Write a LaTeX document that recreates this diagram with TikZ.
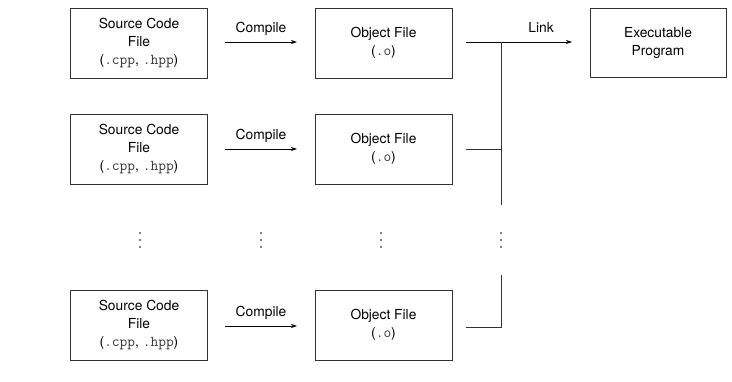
\documentclass[tikz,border=0pt]{standalone}
\usepackage{fontspec}
\setmainfont{TeX Gyre Heros}
\usetikzlibrary{arrows.meta}
\begin{document}
\begin{tikzpicture}[x=1pt,y=-1pt,
  box/.style={draw=black!80,line width=0.8pt,minimum width=137pt,minimum height=70pt,inner sep=0pt,align=center,font=\fontsize{13.8}{18}\selectfont},
  arr/.style={-{Stealth[length=6pt,width=4pt]},line width=0.7pt},
  ln/.style={line width=0.7pt,draw=black!80},
  lbl/.style={font=\fontsize{13.8}{15}\selectfont,anchor=base},
  dot/.style={circle,fill=black,inner sep=0pt,minimum size=1.9pt}]
\useasboundingbox (0,0) rectangle (732,382);
\newcommand{\mytt}[1]{{\fontsize{15}{18}\selectfont\color{black!80}\ttfamily #1}}
\newcommand{\ext}{(\mytt{.cpp}, \mytt{.hpp})}
\newcommand{\objext}{(\mytt{.o})}
% source boxes
\node[box] (s1) at (139,43) {Source Code\\File\\\ext};
\node[box] (s2) at (139,149) {Source Code\\File\\\ext};
\node[box] (s3) at (139,325) {Source Code\\File\\\ext};
% object boxes
\node[box] (o1) at (383.5,43) {Object File\\\objext};
\node[box] (o2) at (383.5,149) {Object File\\\objext};
\node[box] (o3) at (383.5,325) {Object File\\\objext};
% executable
\node[box,minimum width=136pt,minimum height=69pt] (ex) at (658,42.5) {Executable\\Program};
% compile arrows
\foreach \i/\y in {1/42,2/149,3/326}{
  \coordinate (ca\i) at (225,\y);
  \coordinate (cb\i) at (297,\y);
  \draw[arr] (ca\i) -- (cb\i);
  \node[lbl] (cl\i) at (261,\y-9) {Compile};
}
% link
\coordinate (j1) at (466,42);
\coordinate (jt) at (501,42);
\coordinate (la) at (572,42);
\coordinate (jb1) at (501,205);
\coordinate (jt2) at (501,275);
\coordinate (jb2) at (501,327);
\coordinate (j2) at (466,149);
\coordinate (j2r) at (501,149);
\coordinate (j3) at (466,327);
\draw[arr] (j1) -- (la);
\node[lbl] (ll) at (541,33) {Link};
\draw[ln] (jt) -- (jb1);
\draw[ln] (j2) -- (j2r);
\draw[ln] (j3) -- (jb2) -- (jt2);
% vertical dots
\foreach \x/\n in {140/a,261/b,381/c,501/d}{
  \foreach \y/\m in {233/1,240/2,247/3}{
    \node[dot] (vd\n\m) at (\x,\y) {};
  }
}
\end{tikzpicture}
\end{document}
